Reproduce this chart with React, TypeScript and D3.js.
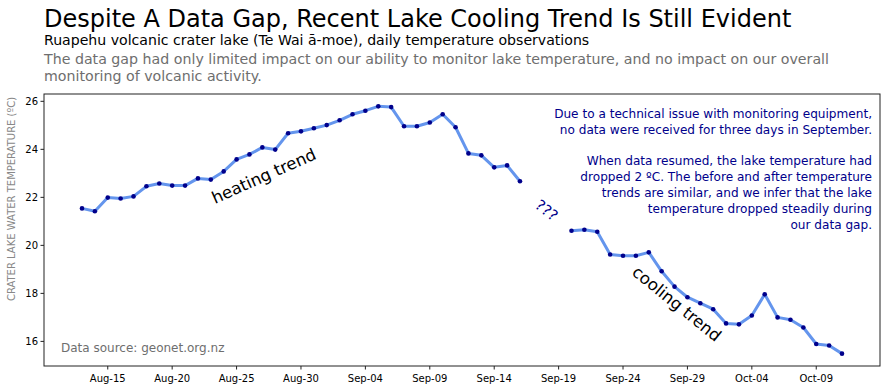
import React from "react";
import * as d3 from "d3";

const datesBefore = [
  "2021-08-13","2021-08-14","2021-08-15","2021-08-16","2021-08-17","2021-08-18","2021-08-19",
  "2021-08-20","2021-08-21","2021-08-22","2021-08-23","2021-08-24","2021-08-25","2021-08-26",
  "2021-08-27","2021-08-28","2021-08-29","2021-08-30","2021-08-31","2021-09-01","2021-09-02",
  "2021-09-03","2021-09-04","2021-09-05","2021-09-06","2021-09-07","2021-09-08","2021-09-09",
  "2021-09-10","2021-09-11","2021-09-12","2021-09-13","2021-09-14","2021-09-15","2021-09-16",
];
const tempsBefore = [
  21.54, 21.42, 21.99, 21.95, 22.04, 22.46, 22.58,
  22.49, 22.49, 22.79, 22.74, 23.08, 23.58, 23.79,
  24.08, 23.99, 24.67, 24.75, 24.88, 25.01, 25.21,
  25.46, 25.61, 25.79, 25.76, 24.96, 24.96, 25.12,
  25.46, 24.92, 23.83, 23.75, 23.25, 23.33, 22.67,
];
const datesAfter = [
  "2021-09-20","2021-09-21","2021-09-22","2021-09-23","2021-09-24","2021-09-25","2021-09-26",
  "2021-09-27","2021-09-28","2021-09-29","2021-09-30","2021-10-01","2021-10-02","2021-10-03",
  "2021-10-04","2021-10-05","2021-10-06","2021-10-07","2021-10-08","2021-10-09","2021-10-10",
  "2021-10-11",
];
const tempsAfter = [
  20.61, 20.65, 20.57, 19.62, 19.57, 19.57, 19.71,
  18.92, 18.28, 17.84, 17.59, 17.34, 16.75, 16.71,
  17.08, 17.96, 17.00, 16.90, 16.58, 15.89, 15.83,
  15.49,
];
const xTickDates = [
  "2021-08-15","2021-08-20","2021-08-25","2021-08-30","2021-09-04","2021-09-09",
  "2021-09-14","2021-09-19","2021-09-24","2021-09-29","2021-10-04","2021-10-09",
];
const yTicks = [16, 18, 20, 22, 24, 26];
const noteLines = [
  "Due to a technical issue with monitoring equipment,",
  "no data were received for three days in September.",
  "",
  "When data resumed, the lake temperature had",
  "dropped 2 ºC. The before and after temperature",
  "trends are similar, and we infer that the lake",
  "temperature dropped steadily during",
  "our data gap.",
];

const W = 888, H = 390;
const M = { left: 44, right: 880, top: 94, bottom: 366 };
const FONT = "'DejaVu Sans', sans-serif";
const parse = d3.utcParse("%Y-%m-%d");
const fmt = d3.utcFormat("%b-%d");

export default function App() {
  const before = datesBefore.map((d, i) => ({ d: parse(d)!, v: tempsBefore[i] }));
  const after = datesAfter.map((d, i) => ({ d: parse(d)!, v: tempsAfter[i] }));
  const all = before.concat(after);
  const [d0, d1] = d3.extent(all, (p) => +p.d) as [number, number];
  const padX = (d1 - d0) * 0.05;
  const x = d3.scaleUtc().domain([new Date(d0 - padX), new Date(d1 + padX)]).range([M.left, M.right]);
  const [v0, v1] = d3.extent(all, (p) => p.v) as [number, number];
  const padY = (v1 - v0) * 0.05;
  const y = d3.scaleLinear().domain([v0 - padY, v1 + padY]).range([M.bottom, M.top]);
  const line = d3.line<{ d: Date; v: number }>().x((p) => x(p.d)).y((p) => y(p.v));

  return (
    <svg width={W} height={H} style={{ position: "absolute", left: 0, top: 0, fontFamily: FONT }}>
      <rect width={W} height={H} fill="#fff" />
      <text x={44} y={27} fontSize={24} fill="#000">Despite A Data Gap, Recent Lake Cooling Trend Is Still Evident</text>
      <text x={44} y={45} fontSize={14.1} fill="#000">Ruapehu volcanic crater lake (Te Wai ā-moe), daily temperature observations</text>
      <text x={44} y={64} fontSize={14.2} fill="#6e6e6e">The data gap had only limited impact on our ability to monitor lake temperature, and no impact on our overall</text>
      <text x={44} y={81} fontSize={14.2} fill="#6e6e6e">monitoring of volcanic activity.</text>

      <rect x={M.left} y={M.top} width={M.right - M.left} height={M.bottom - M.top} fill="none" stroke="#222" strokeWidth={1} />

      {yTicks.map((t) => (
        <g key={t} transform={`translate(0,${y(t)})`}>
          <line x1={M.left - 3.5} x2={M.left} stroke="#222" />
          <text x={M.left - 6} dy="0.35em" textAnchor="end" fontSize={10} fill="#000">{t}</text>
        </g>
      ))}
      {xTickDates.map((s) => {
        const dt = parse(s)!;
        return (
          <g key={s} transform={`translate(${x(dt)},0)`}>
            <line y1={M.bottom} y2={M.bottom + 3.5} stroke="#222" />
            <text y={M.bottom + 16} textAnchor="middle" fontSize={10} fill="#000">{fmt(dt)}</text>
          </g>
        );
      })}
      <text transform={`translate(15,199) rotate(-90)`} textAnchor="middle" fontSize={10} fill="#888">CRATER LAKE WATER TEMPERATURE (ºC)</text>

      {[before, after].map((seg, k) => (
        <g key={k}>
          <path d={line(seg)!} fill="none" stroke="#6495ed" strokeWidth={3} strokeLinejoin="round" />
          {seg.map((p, i) => (
            <circle key={i} cx={x(p.d)} cy={y(p.v)} r={2.3} fill="#00008b" />
          ))}
        </g>
      ))}

      <text transform="translate(215,204) rotate(-24)" fontSize={16.5} fill="#000">heating trend</text>
      <text transform="translate(631,274) rotate(39)" fontSize={16.5} fill="#000">cooling trend</text>
      <text transform="translate(534,207) rotate(38)" fontSize={15} fill="#00008b">???</text>

      {noteLines.map((l, i) => (
        <text key={i} x={872} y={118 + i * 15.8} textAnchor="end" fontSize={12.1} fill="#00008b">{l}</text>
      ))}

      <text x={61} y={352} fontSize={12} fill="#6e6e6e">Data source: geonet.org.nz</text>
    </svg>
  );
}
